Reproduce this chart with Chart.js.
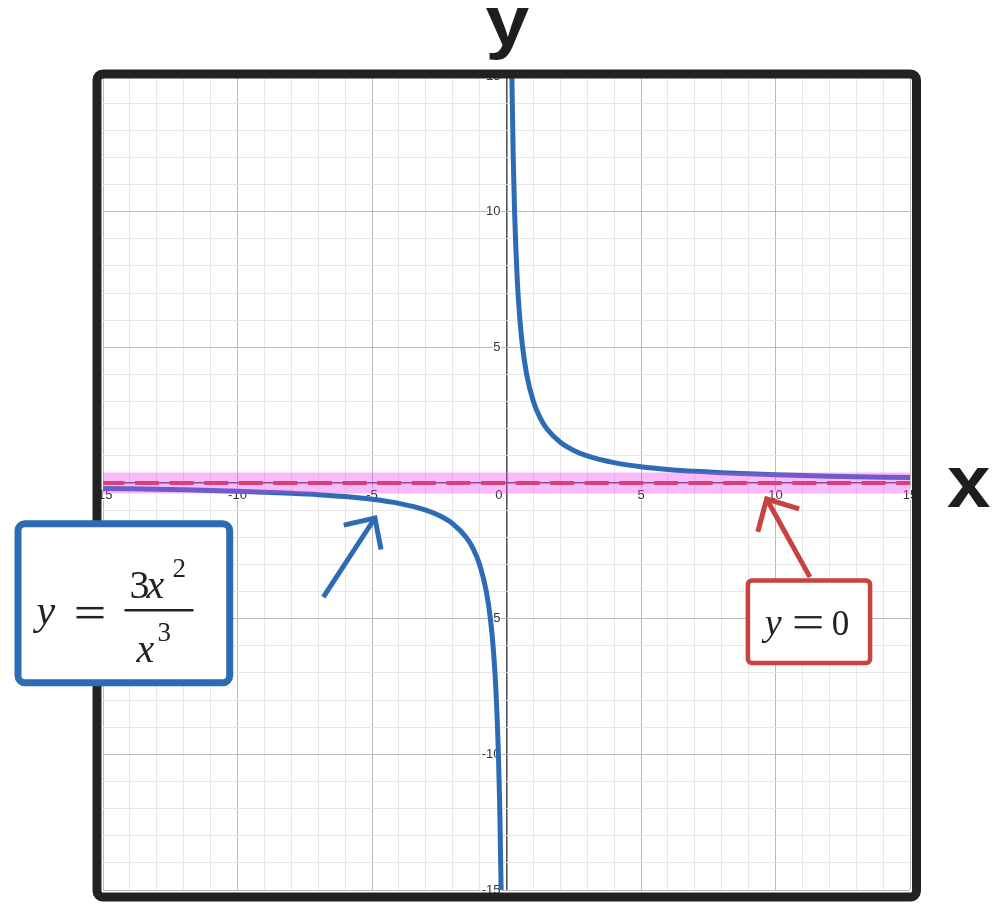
<!DOCTYPE html>
<html>
<head>
<meta charset="utf-8">
<script src="https://cdn.jsdelivr.net/npm/chart.js@4.4.1/dist/chart.umd.min.js"></script>
<style>
  html, body { margin: 0; padding: 0; background: #fff; }
  #wrap { width: 1000px; height: 916px; }
</style>
</head>
<body>
<div id="wrap"><canvas id="rational-chart" width="1000" height="916"></canvas></div>
<script>
// == y = 3x^2 / x^3 with its horizontal asymptote y = 0

const xRange = [-15, 15];
const yRange = [-15, 15];
const xTickLabels = [-15, -10, -5, 0, 5, 10, 15];
const yTickLabels = [-15, -10, -5, 5, 10, 15];

// right branch (x > 0)
const rightX = [0.2, 0.25, 0.3, 0.4, 0.5, 0.6, 0.75, 1, 1.25, 1.5, 2, 2.5, 3, 4, 5, 6, 7, 8, 10, 12, 15];
const rightY = [15, 12, 10, 7.5, 6, 5, 4, 3, 2.4, 2, 1.5, 1.2, 1, 0.75, 0.6, 0.5, 0.43, 0.38, 0.3, 0.25, 0.2];

// left branch (x < 0)
const leftX = [-15, -12, -10, -8, -7, -6, -5, -4, -3, -2.5, -2, -1.5, -1.25, -1, -0.75, -0.6, -0.5, -0.4, -0.3, -0.25, -0.2];
const leftY = [-0.2, -0.25, -0.3, -0.38, -0.43, -0.5, -0.6, -0.75, -1, -1.2, -1.5, -2, -2.4, -3, -4, -5, -6, -7.5, -10, -12, -15];

// asymptote y = 0
const asymptoteX = [-15, 15];
const asymptoteY = [0, 0];

const BLUE = '#2d6cb5';
const RED = '#c8423f';
const SERIF = '"Liberation Serif", "DejaVu Serif", serif';
const SANS = '"Liberation Sans", Arial, sans-serif';

// callouts, placed in data units so they follow the scales
const callouts = {
    blueBox: { x0: -18.29, x1: -10.16, y0: -1.37, y1: -7.49 },
    blueArrow: { tail: [-6.81, -4.21], tip: [-4.89, -1.29] },
    redBox: { x0: 8.89, x1: 13.6, y0: -3.51, y1: -6.72 },
    redArrow: { tail: [11.28, -3.47], tip: [9.67, -0.59] }
};

const toPoints = (xs, ys) => xs.map((v, i) => ({ x: v, y: ys[i] }));

function gridColor(ctx) {
    const v = ctx.tick ? ctx.tick.value : 1;
    if (v === 0) return '#555555';
    if (v % 5 === 0) return '#b9b9b9';
    return '#e7e7e7';
}
function gridWidth(ctx) {
    return ctx.tick && ctx.tick.value === 0 ? 1.6 : 1;
}

function drawArrow(ctx, tail, tip, color, width, headLen) {
    const ang = Math.atan2(tip.y - tail.y, tip.x - tail.x);
    const spread = 44 * Math.PI / 180;
    ctx.save();
    ctx.strokeStyle = color;
    ctx.lineWidth = width;
    ctx.lineCap = 'butt';
    ctx.lineJoin = 'miter';
    ctx.beginPath();
    ctx.moveTo(tail.x, tail.y);
    ctx.lineTo(tip.x, tip.y);
    ctx.stroke();
    ctx.beginPath();
    ctx.moveTo(tip.x - headLen * Math.cos(ang - spread), tip.y - headLen * Math.sin(ang - spread));
    ctx.lineTo(tip.x, tip.y);
    ctx.lineTo(tip.x - headLen * Math.cos(ang + spread), tip.y - headLen * Math.sin(ang + spread));
    ctx.stroke();
    ctx.restore();
}

function drawBox(ctx, box, x, y, color, lw, radius) {
    const L = x.getPixelForValue(box.x0), R = x.getPixelForValue(box.x1);
    const T = y.getPixelForValue(box.y0), B = y.getPixelForValue(box.y1);
    ctx.save();
    ctx.fillStyle = '#fff';
    ctx.strokeStyle = color;
    ctx.lineWidth = lw;
    ctx.beginPath();
    ctx.roundRect(L + lw / 2, T + lw / 2, R - L - lw, B - T - lw, radius);
    ctx.fill();
    ctx.stroke();
    ctx.restore();
    return { L, T };
}

// draw a single bold glyph stretched so its ink fills the given box
function fitGlyph(ctx, ch, left, top, w, h) {
    ctx.save();
    ctx.font = 'bold 100px ' + SANS;
    ctx.textAlign = 'left';
    ctx.textBaseline = 'alphabetic';
    const m = ctx.measureText(ch);
    const inkW = m.actualBoundingBoxLeft + m.actualBoundingBoxRight;
    const inkH = m.actualBoundingBoxAscent + m.actualBoundingBoxDescent;
    const sx = w / inkW, sy = h / inkH;
    ctx.translate(left, top);
    ctx.scale(sx, sy);
    ctx.fillText(ch, m.actualBoundingBoxLeft, m.actualBoundingBoxAscent);
    ctx.restore();
}

function mathText(ctx, str, px, py, size, italic) {
    ctx.font = (italic ? 'italic ' : '') + size + 'px ' + SERIF;
    ctx.fillText(str, px, py);
}

function hLine(ctx, x0, x1, py, lw) {
    ctx.lineWidth = lw;
    ctx.beginPath();
    ctx.moveTo(x0, py);
    ctx.lineTo(x1, py);
    ctx.stroke();
}

const sketchPlugin = {
    id: 'sketch',
    beforeDatasetsDraw(chart) {
        // tick labels sit along the axes, like a graphing calculator
        const { ctx, scales: { x, y } } = chart;
        const ox = x.getPixelForValue(0), oy = y.getPixelForValue(0);
        ctx.save();
        ctx.font = '13px ' + SANS;
        ctx.fillStyle = '#333';
        ctx.strokeStyle = 'rgba(255,255,255,0.9)';
        ctx.lineWidth = 3;
        ctx.lineJoin = 'round';
        ctx.textBaseline = 'middle';
        xTickLabels.forEach(v => {
            let px = x.getPixelForValue(v);
            ctx.textAlign = 'center';
            if (v === 0) { ctx.textAlign = 'right'; px = ox - 4; }
            ctx.strokeText(String(v), px, oy + 12);
            ctx.fillText(String(v), px, oy + 12);
        });
        ctx.textAlign = 'right';
        yTickLabels.forEach(v => {
            const py = y.getPixelForValue(v);
            ctx.strokeText(String(v), ox - 6, py);
            ctx.fillText(String(v), ox - 6, py);
        });
        ctx.restore();
    },
    afterDraw(chart) {
        const { ctx, chartArea: ca, scales: { x, y } } = chart;
        const ox = x.getPixelForValue(0), oy = y.getPixelForValue(0);

        // thick rounded frame
        ctx.save();
        ctx.strokeStyle = '#222';
        ctx.lineWidth = 9;
        ctx.beginPath();
        ctx.roundRect(ca.left - 6, ca.top - 2, ca.width + 12.5, ca.height + 9, 6);
        ctx.stroke();
        ctx.restore();

        // axis letters
        ctx.fillStyle = '#1e1e1e';
        fitGlyph(ctx, 'y', ox - 21, ca.top - 68, 44, 52);
        fitGlyph(ctx, 'x', ca.right + 37, oy - 16, 43, 40);

        // arrows
        const P = p => ({ x: x.getPixelForValue(p[0]), y: y.getPixelForValue(p[1]) });
        drawArrow(ctx, P(callouts.blueArrow.tail), P(callouts.blueArrow.tip), BLUE, 5, 32);
        drawArrow(ctx, P(callouts.redArrow.tail), P(callouts.redArrow.tip), RED, 5, 34);

        // blue box: y = 3x^2 / x^3
        const b = drawBox(ctx, callouts.blueBox, x, y, BLUE, 7, 7);
        ctx.save();
        ctx.fillStyle = '#222';
        ctx.strokeStyle = '#222';
        ctx.textAlign = 'left';
        ctx.textBaseline = 'alphabetic';
        mathText(ctx, 'y', b.L + 22, b.T + 104, 42, true);
        hLine(ctx, b.L + 62, b.L + 89, b.T + 88, 2.5);
        hLine(ctx, b.L + 62, b.L + 89, b.T + 97, 2.5);
        hLine(ctx, b.L + 110, b.L + 179, b.T + 90, 2.5);
        mathText(ctx, '3', b.L + 115, b.T + 78, 40, false);
        mathText(ctx, 'x', b.L + 132, b.T + 78, 40, true);
        mathText(ctx, '2', b.L + 158, b.T + 57, 27, false);
        mathText(ctx, 'x', b.L + 122, b.T + 142, 40, true);
        mathText(ctx, '3', b.L + 143, b.T + 121, 27, false);
        ctx.restore();

        // red box: y = 0
        const r = drawBox(ctx, callouts.redBox, x, y, RED, 4.5, 4);
        ctx.save();
        ctx.fillStyle = '#222';
        ctx.strokeStyle = '#222';
        ctx.textAlign = 'left';
        ctx.textBaseline = 'alphabetic';
        mathText(ctx, 'y', r.L + 19, r.T + 57, 38, true);
        hLine(ctx, r.L + 49, r.L + 76, r.T + 39, 2.3);
        hLine(ctx, r.L + 49, r.L + 76, r.T + 49, 2.3);
        mathText(ctx, '0', r.L + 86, r.T + 57, 35, false);
        ctx.restore();
    }
};

const canvas = document.getElementById('rational-chart');

new Chart(canvas, {
    type: 'scatter',
    data: {
        datasets: [{
            label: 'y = 0',
            data: toPoints(asymptoteX, asymptoteY),
            showLine: true,
            borderColor: '#d9407a',
            borderWidth: 4,
            borderDash: [24, 10.6],
            borderDashOffset: 2.6,
            pointRadius: 0,
            order: 0
        }, {
            label: 'asymptote highlight',
            data: toPoints(asymptoteX, asymptoteY),
            showLine: true,
            borderColor: 'rgba(240, 60, 240, 0.35)',
            borderWidth: 21,
            borderCapStyle: 'butt',
            pointRadius: 0,
            order: 1
        }, {
            label: 'y = 3x²/x³ (x > 0)',
            data: toPoints(rightX, rightY),
            showLine: true,
            borderColor: BLUE,
            borderWidth: 5,
            pointRadius: 0,
            cubicInterpolationMode: 'monotone',
            order: 2
        }, {
            label: 'y = 3x²/x³ (x < 0)',
            data: toPoints(leftX, leftY),
            showLine: true,
            borderColor: BLUE,
            borderWidth: 5,
            pointRadius: 0,
            cubicInterpolationMode: 'monotone',
            order: 3
        }]
    },
    options: {
        responsive: false,
        animation: false,
        events: [],
        layout: { padding: { left: 103, right: 90, top: 76, bottom: 26 } },
        plugins: {
            legend: { display: false },
            tooltip: { enabled: false }
        },
        scales: {
            x: {
                type: 'linear',
                min: xRange[0],
                max: xRange[1],
                ticks: { display: false, stepSize: 1, maxTicksLimit: 31 },
                grid: { color: gridColor, lineWidth: gridWidth, drawTicks: false },
                border: { display: false }
            },
            y: {
                type: 'linear',
                min: yRange[0],
                max: yRange[1],
                ticks: { display: false, stepSize: 1, maxTicksLimit: 31 },
                grid: { color: gridColor, lineWidth: gridWidth, drawTicks: false },
                border: { display: false }
            }
        }
    },
    plugins: [sketchPlugin]
});
</script>
</body>
</html>
